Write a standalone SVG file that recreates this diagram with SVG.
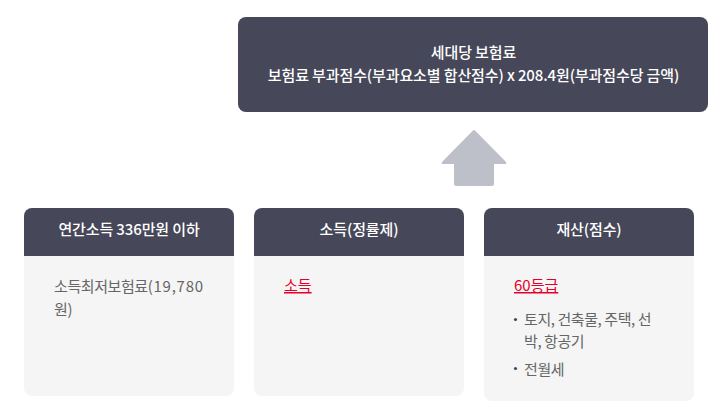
<svg xmlns="http://www.w3.org/2000/svg" width="708" height="406" viewBox="0 0 708 406">
<style>
text{font-family:"Noto Sans CJK KR","Noto Sans",sans-serif;font-size:15px}
.h{fill:#464759}
.b{fill:#f5f5f5}
.w{fill:#fff;font-weight:500;text-anchor:middle;letter-spacing:-.12px}
.g{fill:#666;letter-spacing:-.42px}
.n{letter-spacing:.75px}
.r{fill:#e4002b;text-decoration:underline}
.d{fill:#464759}
</style>
<rect width="708" height="406" fill="#fff"/>
<g id="total">
<rect class="h" x="238" y="17" width="470" height="95" rx="8"/>
<text class="w" x="473.500" y="58">세대당 보험료</text>
<text class="w" x="473.500" y="81">보험료 부과점수(부과요소별 합산점수) x 208.4원(부과점수당 금액)</text>
</g>
<g id="connectors">
<path d="M474 130 Q474.500 130 475.500 131 L506 162 Q507 164 505 164 L494 164 L494 184 Q494 186 492 186 L456 186 Q454 186 454 184 L454 164 L443 164 Q441 164 442 162 L472.500 131 Q473.500 130 474 130 Z" fill="#bdc0c8"/>
</g>
<g id="card-1">
<rect class="b" x="24" y="208" width="210" height="188" rx="8"/>
<path class="h" d="M24 256V216a8 8 0 0 1 8-8H226a8 8 0 0 1 8 8V256Z"/>
<text class="w" x="129" y="235">연간소득 336만원 이하</text>
<text class="g" x="54" y="291.500">소득최저보험료<tspan class="n">(19,780</tspan></text>
<text class="g" x="54" y="314.500">원)</text>
</g>
<g id="card-2">
<rect class="b" x="254" y="208" width="210" height="188" rx="8"/>
<path class="h" d="M254 256V216a8 8 0 0 1 8-8H456a8 8 0 0 1 8 8V256Z"/>
<text class="w" x="359" y="235">소득(정률제)</text>
<text class="r" x="284" y="291">소득</text>
</g>
<g id="card-3">
<rect class="b" x="484" y="208" width="210" height="193" rx="8"/>
<path class="h" d="M484 256V216a8 8 0 0 1 8-8H686a8 8 0 0 1 8 8V256Z"/>
<text class="w" x="589" y="235">재산(점수)</text>
<text class="r" x="514" y="291">60등급</text>
<circle class="d" cx="515.500" cy="319.500" r="1.600"/>
<text class="g" x="524" y="325">토지, 건축물, 주택, 선</text>
<text class="g" x="524" y="347">박, 항공기</text>
<circle class="d" cx="515.500" cy="368.500" r="1.600"/>
<text class="g" x="524" y="374.500">전월세</text>
</g>
</svg>
